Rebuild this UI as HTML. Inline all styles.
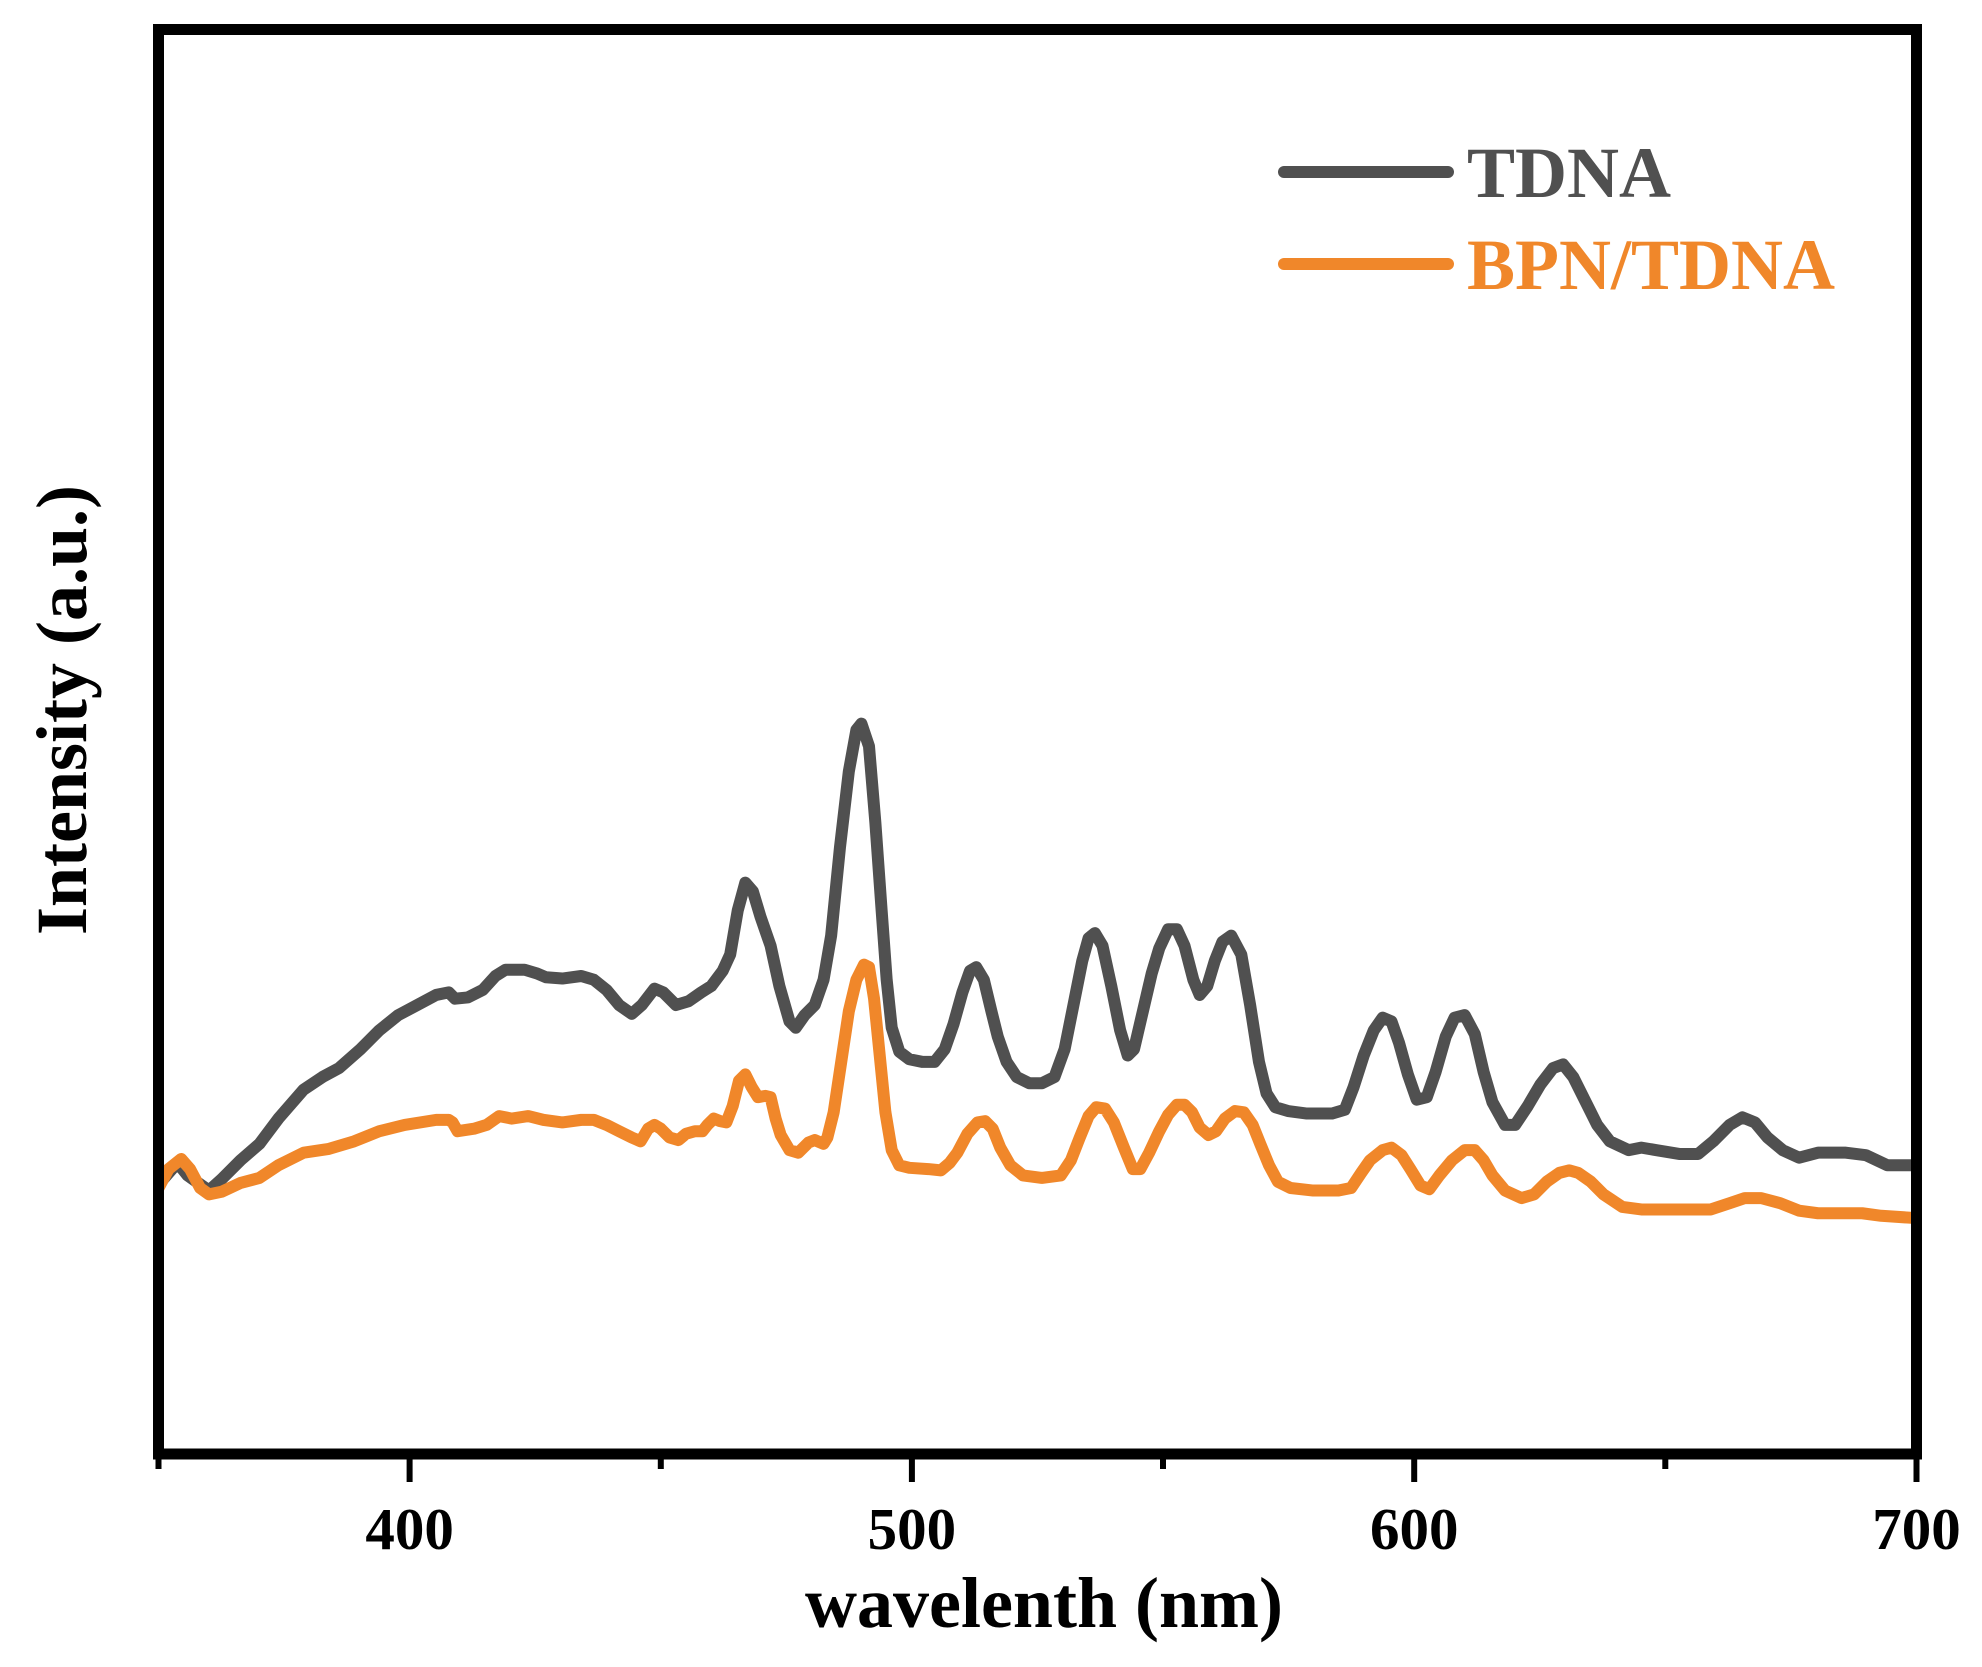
<!DOCTYPE html>
<html><head><meta charset="utf-8"><style>
html,body{margin:0;padding:0;background:#fff;}
svg{display:block;}
text{font-family:"Liberation Serif","Times New Roman",serif;font-weight:bold;}
</style></head><body>
<svg width="1982" height="1667" viewBox="0 0 1982 1667" xmlns="http://www.w3.org/2000/svg">
<defs><clipPath id="c"><rect x="164" y="35" width="1747" height="1414"/></clipPath></defs>
<g clip-path="url(#c)">
<g transform="translate(158.5,29.5) scale(1.262) translate(-125,-22)" fill="none" stroke-linejoin="round" stroke-linecap="round">
<polyline vector-effect="non-scaling-stroke" stroke="#505050" stroke-width="12" points="127,935 140,920 148,930 165,942 175,933 190,918 205,905 220,885 240,862 255,852 268,845 285,830 300,815 315,803 330,795 345,787 355,785 360,790 370,789 382,783 392,772 400,767 415,767 425,770 432,773 445,774 460,772 470,775 480,783 490,795 500,802 508,795 518,782 525,785 535,795 545,792 555,785 563,780 572,768 578,755 584,720 590,698 596,705 602,725 610,748 617,780 625,808 630,813 637,803 645,795 652,775 658,740 665,670 672,610 678,577 682,572 688,590 693,650 698,720 702,775 706,813 712,832 720,838 730,840 740,840 748,830 755,810 762,785 768,768 773,765 779,775 785,800 790,820 797,840 805,852 815,857 825,857 835,852 843,830 850,795 857,760 862,742 867,738 873,748 880,780 887,815 893,835 898,830 905,800 912,770 918,750 925,735 932,735 938,748 945,775 950,787 956,780 962,760 968,745 975,740 983,755 990,795 997,840 1003,865 1010,876 1020,879 1035,881 1055,881 1065,878 1072,860 1080,835 1088,815 1095,805 1102,808 1108,825 1115,850 1122,870 1130,868 1137,848 1145,820 1152,805 1160,803 1168,818 1175,848 1182,872 1192,890 1200,890 1210,875 1220,858 1230,845 1238,842 1246,852 1255,870 1265,890 1275,903 1290,910 1300,908 1312,910 1330,913 1345,913 1357,903 1370,890 1380,884 1390,888 1400,900 1412,910 1425,916 1440,912 1462,912 1478,914 1495,922 1520,922"/>
<polyline vector-effect="non-scaling-stroke" stroke="#F0872A" stroke-width="12" points="125,940 133,925 143,917 150,925 158,940 165,945 175,943 190,936 205,932 220,922 240,912 260,909 280,903 300,895 320,890 345,886 355,886 358,888 362,895 375,893 385,890 395,883 405,885 418,883 430,886 445,888 460,886 470,886 480,890 490,895 500,900 507,903 513,893 518,890 523,893 530,900 537,902 543,897 550,895 556,895 560,890 565,885 570,887 575,888 580,875 585,855 590,850 595,860 600,868 606,867 610,868 614,885 618,898 625,910 632,912 640,904 645,902 652,905 655,900 660,880 666,840 672,800 678,775 684,763 688,765 692,790 697,840 701,880 706,910 712,922 720,924 735,925 745,926 752,920 758,912 766,897 774,888 780,887 786,893 792,908 800,922 810,930 825,932 840,930 848,918 855,900 862,883 868,876 875,877 882,888 890,908 897,925 903,925 910,912 918,895 925,882 932,874 938,874 944,880 950,892 957,898 963,895 970,885 978,879 985,880 992,890 998,905 1005,922 1012,935 1022,940 1040,942 1060,942 1070,940 1078,928 1085,918 1095,910 1102,908 1110,914 1117,925 1125,938 1132,941 1140,930 1150,918 1160,910 1168,910 1175,918 1182,930 1192,942 1205,948 1215,945 1225,935 1235,928 1243,926 1250,928 1260,935 1270,945 1285,955 1300,957 1320,957 1340,957 1355,957 1370,952 1382,948 1395,948 1410,952 1425,958 1440,960 1460,960 1475,960 1490,962 1520,964"/>
</g></g>
<rect x="158.5" y="29.5" width="1758" height="1424.5" fill="none" stroke="#000" stroke-width="11"/>
<g stroke="#000" stroke-width="6">
<line x1="158.5" y1="1454" x2="158.5" y2="1469"/>
<line x1="409.6" y1="1454" x2="409.6" y2="1482"/>
<line x1="660.8" y1="1454" x2="660.8" y2="1469"/>
<line x1="911.9" y1="1454" x2="911.9" y2="1482"/>
<line x1="1163" y1="1454" x2="1163" y2="1469"/>
<line x1="1414.2" y1="1454" x2="1414.2" y2="1482"/>
<line x1="1665.3" y1="1454" x2="1665.3" y2="1469"/>
<line x1="1916.5" y1="1454" x2="1916.5" y2="1482"/>
</g>
<g font-size="59" text-anchor="middle" fill="#000">
<text x="409.6" y="1549">400</text>
<text x="911.9" y="1549">500</text>
<text x="1414.2" y="1549">600</text>
<text x="1916.5" y="1549">700</text>
</g>
<text x="1044" y="1627" font-size="72" text-anchor="middle">wavelenth (nm)</text>
<text transform="translate(86,710) rotate(-90)" font-size="72" text-anchor="middle">Intensity (a.u.)</text>
<line x1="1284" y1="172" x2="1448" y2="172" stroke="#505050" stroke-width="12" stroke-linecap="round"/>
<line x1="1284" y1="264" x2="1448" y2="264" stroke="#F0872A" stroke-width="12" stroke-linecap="round"/>
<text x="1467" y="197" font-size="72" fill="#505050">TDNA</text>
<text x="1467" y="289" font-size="72" fill="#F0872A">BPN/TDNA</text>
</svg>
</body></html>
